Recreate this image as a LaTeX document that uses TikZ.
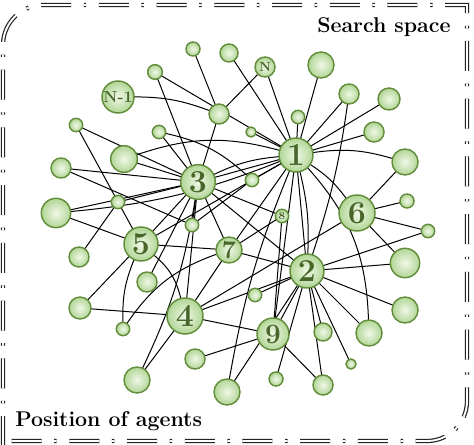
\documentclass[tikz,border=0pt]{standalone}
\usepackage{fontspec}
\usetikzlibrary{backgrounds}
\definecolor{nodeborder}{RGB}{98,142,60}
\definecolor{nodein}{RGB}{240,248,232}
\definecolor{nodeout}{RGB}{178,214,150}
\definecolor{digitc}{RGB}{72,102,42}
\definecolor{framec}{RGB}{35,35,35}
\tikzset{
  agent/.style={circle, draw=nodeborder, line width=1.1pt, inner color=nodein, outer color=nodeout,
    inner sep=0pt, outer sep=0pt, text=digitc},
  dia/.style={minimum size=#1pt},
  big/.style={font=\bfseries\fontsize{24}{24}\selectfont},
  link/.style={draw=black, line width=0.75pt},
  frame/.style={draw=framec, line width=0.9pt, double=white, double distance=1.4pt,
    dash pattern=on 22.5pt off 9.5pt on 1.8pt off 9.5pt},
  lbl/.style={font=\bfseries\fontsize{16}{18}\selectfont, inner sep=0pt, anchor=base west},
}
\begin{document}
\begin{tikzpicture}[x=0.75pt,y=-0.75pt]
\useasboundingbox (0,0) rectangle (474,445);
% frame
\draw[frame] (3,446) -- (3,45) .. controls (3,23) and (21,5) .. (43,5) -- (467,5) -- (467,401)
  .. controls (467,423) and (449,441) .. (427,441) -- (-2,441);
\node[lbl] (title) at (317,33) {Search space};
\node[lbl] (caption) at (15,426) {Position of agents};
% numbered agents
\node[agent, dia=25.5, big] (n1) at (296,155) {1};
\node[agent, dia=25.5, big] (n2) at (307,271) {2};
\node[agent, dia=26, big] (n3) at (198,182) {3};
\node[agent, dia=27, big] (n4) at (185,316) {4};
\node[agent, dia=25.5, big] (n5) at (141,244) {5};
\node[agent, dia=27, big] (n6) at (357,213) {6};
\node[agent, dia=19.5, font=\bfseries\fontsize{19}{19}\selectfont] (n7) at (229,250) {7};
\node[agent, dia=10, font=\bfseries\fontsize{8}{8}\selectfont] (n8) at (282,216) {8};
\node[agent, dia=24, font=\bfseries\fontsize{21}{21}\selectfont] (n9) at (273,334) {9};
\node[agent, dia=15, font=\bfseries\fontsize{10}{10}\selectfont] (nN) at (265,67) {N};
\node[agent, dia=24, font=\bfseries\fontsize{12}{12}\selectfont] (nN1) at (118,97) {N-1};
% other agents
\node[agent, dia=10.5] (ta) at (193,49) {};
\node[agent, dia=13.5] (tb) at (229,53) {};
\node[agent, dia=11] (tc) at (155,72) {};
\node[agent, dia=15] (td) at (219,114) {};
\node[agent, dia=10] (te) at (76,125) {};
\node[agent, dia=10] (tf) at (159,132) {};
\node[agent, dia=20] (tg) at (124,159) {};
\node[agent, dia=15] (th) at (61,168) {};
\node[agent, dia=22] (ti) at (56,213) {};
\node[agent, dia=10] (tj) at (118,202) {};
\node[agent, dia=19.5] (tk) at (321,65) {};
\node[agent, dia=15] (tl) at (349,94) {};
\node[agent, dia=16.5] (tm) at (389,99) {};
\node[agent, dia=10] (to) at (298,117) {};
\node[agent, dia=7.5] (tp) at (251,132) {};
\node[agent, dia=15] (tq) at (374,132) {};
\node[agent, dia=19.5] (tr) at (405,162) {};
\node[agent, dia=10] (ts) at (252,180) {};
\node[agent, dia=10.5] (tt) at (407,201) {};
\node[agent, dia=10] (tu) at (428,231) {};
\node[agent, dia=22] (tv) at (405,263) {};
\node[agent, dia=19.5] (tw) at (405,310) {};
\node[agent, dia=10] (tx) at (255,295) {};
\node[agent, dia=13.5] (ty) at (323,332) {};
\node[agent, dia=19.5] (tz) at (369,333) {};
\node[agent, dia=7.5] (taa) at (351,364) {};
\node[agent, dia=10.5] (tbb) at (276,379) {};
\node[agent, dia=15] (tcc) at (323,385) {};
\node[agent, dia=15] (tdd) at (79,257) {};
\node[agent, dia=15] (tee) at (147,282) {};
\node[agent, dia=16.5] (tff) at (80,308) {};
\node[agent, dia=10] (tgg) at (123,329) {};
\node[agent, dia=15] (thh) at (195,359) {};
\node[agent, dia=19.5] (tii) at (137,380) {};
\node[agent, dia=19.5] (tjj) at (227,392) {};
\node[agent, dia=10] (tkk) at (192,225) {};
% connectors
\begin{scope}[on background layer]
\foreach \u/\v in {ta/td, tb/n1, tc/n3, tc/n1, nN/td, nN/n1, td/n3, tf/n3, te/n3, te/n5,
  tg/n3, th/n3, th/tkk, ti/n3, ti/n5, tj/n3, tj/tdd, tff/n5, tff/n4, tee/n3,
  n5/n3, n5/n7, n4/n3, n4/n9, n4/tii, n4/n2, n4/n6, n4/n7, thh/n9,
  tjj/n2, n9/n8, n9/n2, n9/tcc, tx/n2, tbb/n2, tcc/n2, ty/n2, taa/n2, tz/n2,
  tw/n2, tv/n2, tu/n2, tv/n6, tu/n6, tt/n6, tr/n6, tq/n1, tm/n1, tl/n1, tk/n1,
  to/n1, tp/n1, n3/n1, n3/n8, n3/n2, n3/n7, n3/tkk, n7/n8, n7/n2, tkk/ts, ts/n1,
  n1/n7, n1/n5, n1/n9, n1/n2}
  \draw[link] (\u) -- (\v);
\draw[link] (tg) to[bend left=17] (n1);
\draw[link] (ti) to[bend right=8] (n1);
\draw[link] (n1) to[bend left=12] (tr);
\draw[link] (n1) to[bend left=20] (tz);
\draw[link] (n1) to[bend left=10] (n6);
\draw[link] (tl) to[bend left=5] (n2);
\draw[link] (n5) to[bend left=18] (n4);
\draw[link] (n5) to[bend right=12] (tgg);
\draw[link] (tgg) to[bend left=18] (n7);
\draw[link] (tf) to[bend left=15] (ts);
\draw[link] (tjj) to[bend left=6] (n1);
\draw[link] (n1) to[bend left=8] (n2);
\draw[link] (tii) to[bend right=8] (n3);
\draw[link] (nN1) to[bend left=10] (td);
\draw[link] (n3) to[bend left=10] (n1);
\end{scope}
\end{tikzpicture}
\end{document}
